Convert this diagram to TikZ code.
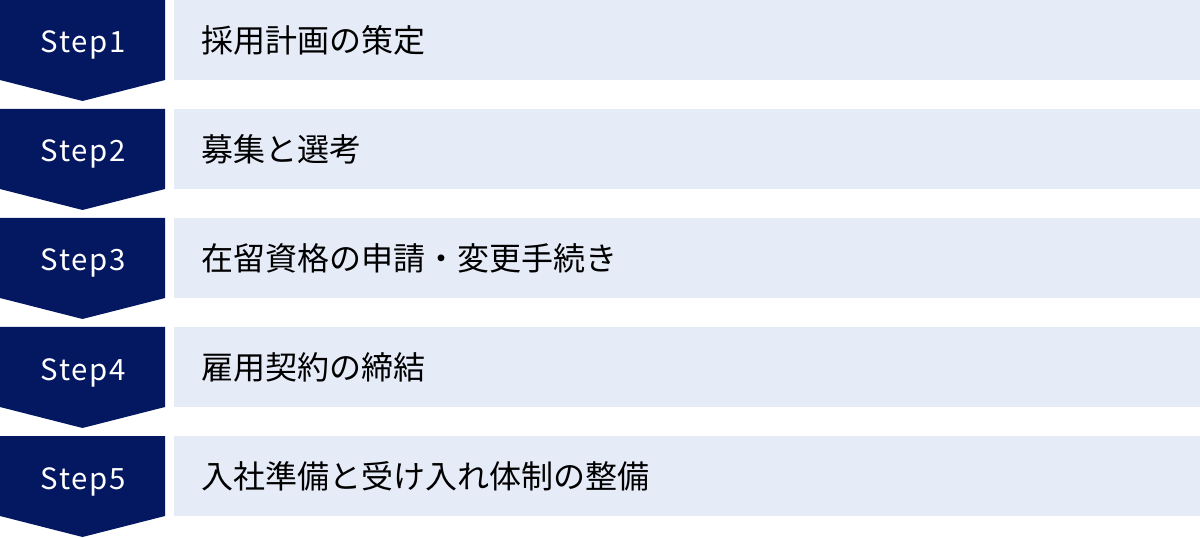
\documentclass[tikz,border=0pt]{standalone}
\usepackage{fontspec}
\newfontfamily\jpfont{Noto Sans CJK JP}
\newfontfamily\stepfont[LetterSpace=6]{Noto Sans CJK JP}
\definecolor{stepnavy}{HTML}{041862}
\definecolor{barblue}{HTML}{E6EBF8}

\begin{document}
\begin{tikzpicture}[x=0.75pt,y=-0.75pt,
  chevron/.style={fill=stepnavy},
  bar/.style={fill=barblue},
  steplabel/.style={text=white,anchor=base,inner sep=0pt,font=\stepfont\fontsize{22}{22}\selectfont},
  itemlabel/.style={text=black,anchor=west,inner sep=0pt,font=\jpfont\fontsize{24}{24}\selectfont}]
\useasboundingbox (0,0) rectangle (1200,538);

% step 1
\path[chevron] (0,0) -- (165,0) -- (165,80) -- (82.5,101) -- (0,80) -- cycle;
\path[bar] (174,0) rectangle (1200,80);
\node[steplabel] (s1) at (83.5,53) {Step1};
\node[itemlabel] (t1) at (201,40) {採用計画の策定};

% step 2
\path[chevron] (0,109) -- (165,109) -- (165,189) -- (82.5,210) -- (0,189) -- cycle;
\path[bar] (174,109) rectangle (1200,189);
\node[steplabel] (s2) at (83.5,162) {Step2};
\node[itemlabel] (t2) at (201,149) {募集と選考};

% step 3
\path[chevron] (0,218) -- (165,218) -- (165,298) -- (82.5,319) -- (0,298) -- cycle;
\path[bar] (174,218) rectangle (1200,298);
\node[steplabel] (s3) at (83.5,271) {Step3};
\node[itemlabel] (t3) at (201,258) {在留資格の申請・変更手続き};

% step 4
\path[chevron] (0,327) -- (165,327) -- (165,407) -- (82.5,428) -- (0,407) -- cycle;
\path[bar] (174,327) rectangle (1200,407);
\node[steplabel] (s4) at (83.5,380) {Step4};
\node[itemlabel] (t4) at (201,367) {雇用契約の締結};

% step 5
\path[chevron] (0,436) -- (165,436) -- (165,516) -- (82.5,537) -- (0,516) -- cycle;
\path[bar] (174,436) rectangle (1200,516);
\node[steplabel] (s5) at (83.5,489) {Step5};
\node[itemlabel] (t5) at (201,476) {入社準備と受け入れ体制の整備};
\end{tikzpicture}
\end{document}
